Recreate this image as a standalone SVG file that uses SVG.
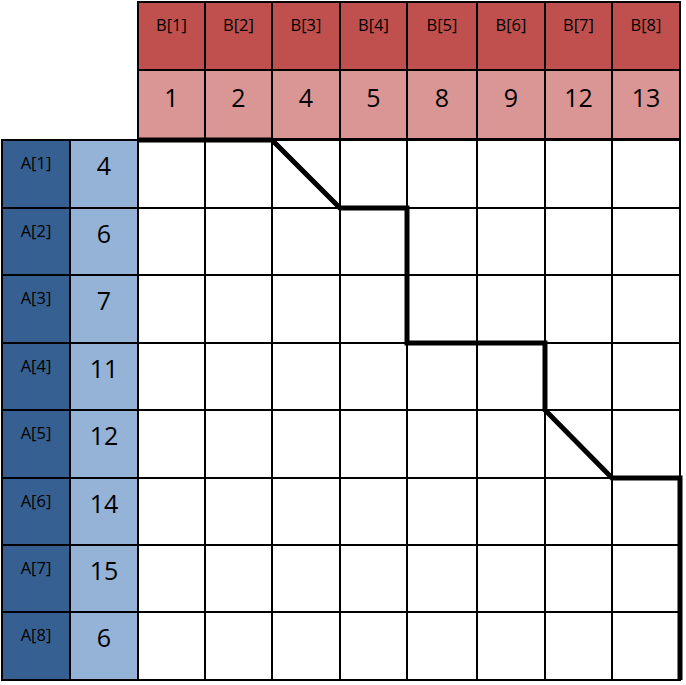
<svg xmlns="http://www.w3.org/2000/svg" width="686" height="685" viewBox="0 0 686 685">
<style>
.c{stroke:#000;stroke-width:2}
.bh{fill:#C0504D}
.bv{fill:#DA9694}
.ah{fill:#366092}
.av{fill:#95B3D7}
.g{fill:#fff}
.s{font-family:"Open Sans","Liberation Sans",Arial,sans-serif;font-size:16.5px;text-anchor:middle;fill:#000}
.n{font-family:"Open Sans","Liberation Sans",Arial,sans-serif;font-size:25px;text-anchor:middle;fill:#000}
.p{fill:none;stroke:#000;stroke-width:5;stroke-linejoin:miter}
</style>
<rect width="686" height="685" fill="#fff"/>
<g id="grid">
<rect class="c g" x="138" y="140" width="542" height="540"/>
<path class="c" d="M205,140V680M272,140V680M340,140V680M407,140V680M477,140V680M545,140V680M612,140V680M138,208H680M138,275H680M138,343H680M138,410H680M138,478H680M138,545H680M138,612H680"/>
</g>
<g id="B1"><rect class="c bh" x="138" y="2" width="67" height="68"/><text class="s" x="171.5" y="31">B[1]</text></g>
<g id="B2"><rect class="c bh" x="205" y="2" width="67" height="68"/><text class="s" x="238.5" y="31">B[2]</text></g>
<g id="B3"><rect class="c bh" x="272" y="2" width="68" height="68"/><text class="s" x="306" y="31">B[3]</text></g>
<g id="B4"><rect class="c bh" x="340" y="2" width="67" height="68"/><text class="s" x="373.5" y="31">B[4]</text></g>
<g id="B5"><rect class="c bh" x="407" y="2" width="70" height="68"/><text class="s" x="442" y="31">B[5]</text></g>
<g id="B6"><rect class="c bh" x="477" y="2" width="68" height="68"/><text class="s" x="511" y="31">B[6]</text></g>
<g id="B7"><rect class="c bh" x="545" y="2" width="67" height="68"/><text class="s" x="578.5" y="31">B[7]</text></g>
<g id="B8"><rect class="c bh" x="612" y="2" width="68" height="68"/><text class="s" x="646" y="31">B[8]</text></g>
<g id="Bv1"><rect class="c bv" x="138" y="70" width="67" height="69"/><text class="n" x="171.5" y="107">1</text></g>
<g id="Bv2"><rect class="c bv" x="205" y="70" width="67" height="69"/><text class="n" x="238.5" y="107">2</text></g>
<g id="Bv3"><rect class="c bv" x="272" y="70" width="68" height="69"/><text class="n" x="306" y="107">4</text></g>
<g id="Bv4"><rect class="c bv" x="340" y="70" width="67" height="69"/><text class="n" x="373.5" y="107">5</text></g>
<g id="Bv5"><rect class="c bv" x="407" y="70" width="70" height="69"/><text class="n" x="442" y="107">8</text></g>
<g id="Bv6"><rect class="c bv" x="477" y="70" width="68" height="69"/><text class="n" x="511" y="107">9</text></g>
<g id="Bv7"><rect class="c bv" x="545" y="70" width="67" height="69"/><text class="n" x="578.5" y="107">12</text></g>
<g id="Bv8"><rect class="c bv" x="612" y="70" width="68" height="69"/><text class="n" x="646" y="107">13</text></g>
<g id="A1"><rect class="c ah" x="2" y="140" width="68" height="68"/><text class="s" x="36" y="169">A[1]</text></g>
<g id="A2"><rect class="c ah" x="2" y="208" width="68" height="67"/><text class="s" x="36" y="237">A[2]</text></g>
<g id="A3"><rect class="c ah" x="2" y="275" width="68" height="68"/><text class="s" x="36" y="304">A[3]</text></g>
<g id="A4"><rect class="c ah" x="2" y="343" width="68" height="67"/><text class="s" x="36" y="372">A[4]</text></g>
<g id="A5"><rect class="c ah" x="2" y="410" width="68" height="68"/><text class="s" x="36" y="439">A[5]</text></g>
<g id="A6"><rect class="c ah" x="2" y="478" width="68" height="67"/><text class="s" x="36" y="507">A[6]</text></g>
<g id="A7"><rect class="c ah" x="2" y="545" width="68" height="67"/><text class="s" x="36" y="574">A[7]</text></g>
<g id="A8"><rect class="c ah" x="2" y="612" width="68" height="68"/><text class="s" x="36" y="641">A[8]</text></g>
<g id="Av1"><rect class="c av" x="70" y="140" width="68" height="68"/><text class="n" x="104" y="175">4</text></g>
<g id="Av2"><rect class="c av" x="70" y="208" width="68" height="67"/><text class="n" x="104" y="243">6</text></g>
<g id="Av3"><rect class="c av" x="70" y="275" width="68" height="68"/><text class="n" x="104" y="310">7</text></g>
<g id="Av4"><rect class="c av" x="70" y="343" width="68" height="67"/><text class="n" x="104" y="378">11</text></g>
<g id="Av5"><rect class="c av" x="70" y="410" width="68" height="68"/><text class="n" x="104" y="445">12</text></g>
<g id="Av6"><rect class="c av" x="70" y="478" width="68" height="67"/><text class="n" x="104" y="513">14</text></g>
<g id="Av7"><rect class="c av" x="70" y="545" width="68" height="67"/><text class="n" x="104" y="580">15</text></g>
<g id="Av8"><rect class="c av" x="70" y="612" width="68" height="68"/><text class="n" x="104" y="647">6</text></g>
<g id="connectors">
<path class="p" d="M138,140H272L340,208H407V343H545V410L612,478H680V680"/>
</g>
</svg>
